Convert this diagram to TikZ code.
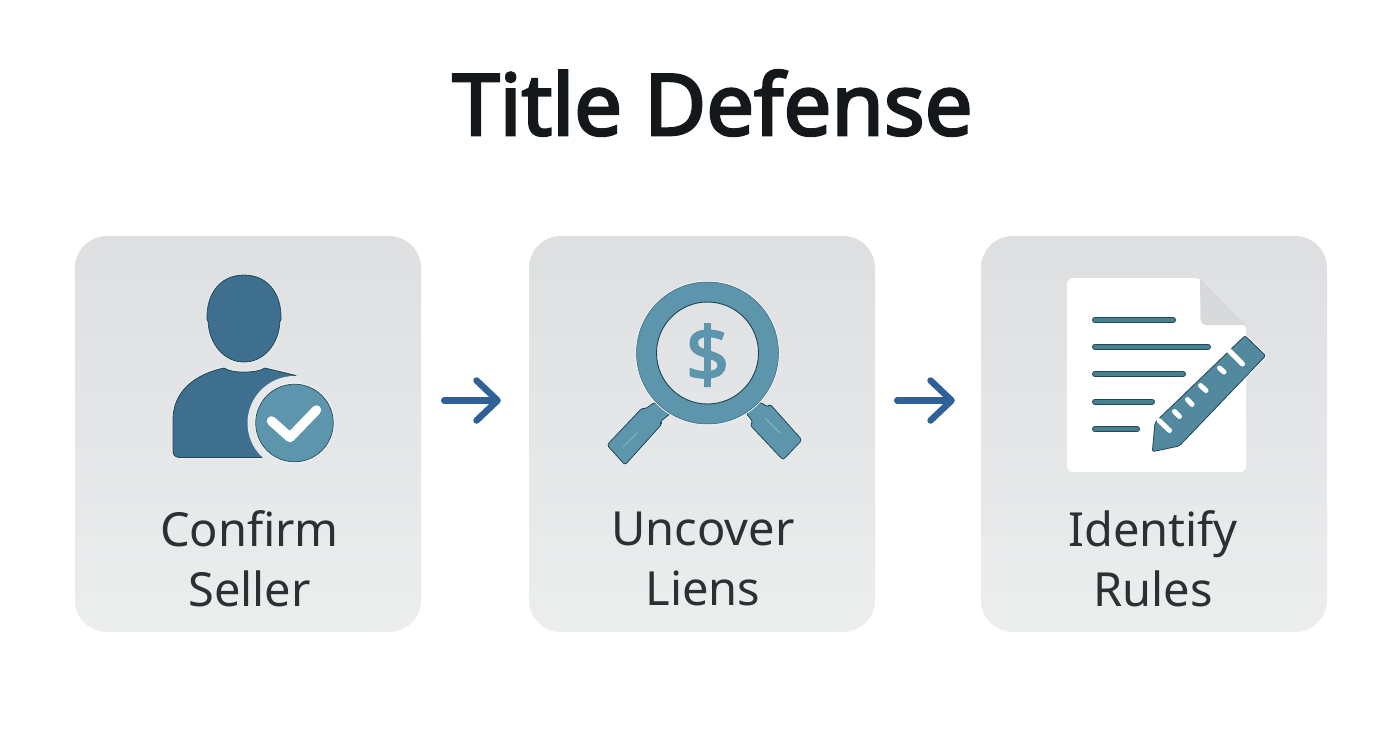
\documentclass[tikz,border=0pt]{standalone}
\usepackage{fontspec}
\setmainfont{Noto Sans}
\newfontfamily\titlefont[FakeBold=3]{Noto Sans}
\newfontfamily\dollarfont[FakeBold=2.5]{Noto Sans}
\usetikzlibrary{arrows.meta,calc,shadings}
\definecolor{inktitle}{HTML}{14181A}
\definecolor{inklabel}{HTML}{2C3034}
\definecolor{cardtop}{HTML}{DEDFE1}
\definecolor{cardbot}{HTML}{ECEDED}
\definecolor{bodyblue}{HTML}{3E6F8F}
\definecolor{teal}{HTML}{5C95AC}
\definecolor{outl}{HTML}{1F4656}
\definecolor{halo}{HTML}{EEF3F5}
\definecolor{gapcol}{HTML}{E6E8EA}
\definecolor{arrowblue}{HTML}{30609A}
\definecolor{fold}{HTML}{D8D9DB}
\definecolor{docline}{HTML}{47808F}
\tikzset{
  cardbox/.style={rectangle,rounded corners=32pt,minimum width=346pt,minimum height=396pt,inner sep=0pt,top color=cardtop,bottom color=cardbot,draw=none},
  cardlabel/.style={align=center,text=inklabel,font=\fontsize{47}{60.5}\selectfont,inner sep=0pt},
  flow/.style={draw=arrowblue,line width=6.5pt,line cap=round,line join=round,-{Straight Barb[length=21pt,width=40pt,round]}},
  iconhalo/.style={draw=halo,line width=2.4pt,line join=round},
  iconline/.style={draw=outl,line width=0.8pt,line join=round},
  docstroke/.style={draw=outl,line width=6pt,line cap=round},
  docfill/.style={draw=docline,line width=4pt,line cap=round},
  whitemark/.style={draw=white,line width=5pt,line cap=round},
}
\begin{document}
\begin{tikzpicture}[x=1pt,y=-1pt]
\useasboundingbox (0,0) rectangle (1392,752);
\fill[white] (0,0) rectangle (1392,752);
\node[text=inktitle,inner sep=0pt,font=\titlefont\fontsize{85}{95}\selectfont] (title) at (712.5,103) {Title Defense};

\node[cardbox] (card1) at (248,434) {};
\node[cardbox] (card2) at (702,434) {};
\node[cardbox] (card3) at (1154,434) {};

\node[cardlabel] (label1) at (249.5,559) {Confirm\\Seller};
\node[cardlabel] (label2) at (703,559) {Uncover\\Liens};
\node[cardlabel] (label3) at (1153,559) {Identify\\Rules};

% connectors
\coordinate (a1s) at ($(card1.east)+(23,-33.5)$);
\coordinate (a1e) at ($(card2.west)+(-28,-33.5)$);
\coordinate (a2s) at ($(card2.east)+(22,-33.5)$);
\coordinate (a2e) at ($(card3.west)+(-26,-33.5)$);
\draw[flow] (a1s) -- (a1e);
\draw[flow] (a2s) -- (a2e);

% person icon
\def\headpath{(207,320) .. controls (206,294) and (220,275) .. (244,275) .. controls (268,275) and (282,294) .. (281,320) -- (280,321) .. controls (279,344) and (264,362) .. (244,362) .. controls (224,362) and (209,344) .. (208,321) -- cycle}
\def\bodypath{(224,368) .. controls (232,373.5) and (256,373.5) .. (265,368) .. controls (275,370.5) and (286,373) .. (296,375.5) -- (300,420) -- (262,457.5) -- (180,457.5) .. controls (175,457.5) and (173,455) .. (173,451) -- (173,418) .. controls (174,390) and (196,374) .. (224,368) -- cycle}
\path[iconhalo] \headpath;
\path[fill=bodyblue,iconline] \headpath;
\path[iconhalo] \bodypath;
\path[fill=bodyblue,iconline] \bodypath;
\begin{scope}
  \clip (240,360) rectangle (300,470);
  \fill[gapcol] (294.5,423) circle (47);
\end{scope}
\draw[halo,line width=1.5pt,fill=teal] (294.5,423) circle (39.5);
\draw[outl,line width=0.7pt] (294.5,423) circle (38.8);
\draw[white,line width=9.5pt,line cap=round,line join=round] (271.5,421) -- (290,437.5) -- (316.5,410);

% magnifier icon
\foreach \h/\n in {
 {(655,402) -- (645,409) -- (642,408) -- (607,445) -- (625,465) -- (662,424) -- (660,422) -- (671,413)}/1,
 {(760,402) -- (768,407) -- (770,404) -- (802,440) -- (783,460) -- (750,425) -- (753,422) -- (746,413)}/2}{
  \path[fill=teal,draw=halo,line width=2.4pt,rounded corners=2.5pt,line join=round] \h -- cycle;
  \path[fill=teal,iconline,rounded corners=2.5pt] \h -- cycle;
}
\draw[teal!70!white,line width=1pt] (623,447) -- (637,433);
\draw[teal!70!white,line width=1pt] (765,418) -- (780,433);
\path[draw=halo,line width=1.5pt] (707.5,353) circle (71.5);
\path[draw=teal,line width=20pt] (707.5,353) circle (61);
\path[draw=outl,line width=0.9pt] (707.5,353) circle (51);
\path[draw=outl!60!teal,line width=0.5pt] (707.5,353) circle (71);
\node[text=teal,inner sep=0pt,font=\dollarfont\fontsize{76}{76}\selectfont] (dollar) at (707.5,355) {\$};

% document icon
\path[fill=white,rounded corners=6pt] (1200,278) -- (1067,278) -- (1067,472) -- (1246,472) -- (1246,325) -- cycle;
\path[fill=fold] (1200,278) -- (1246,325) -- (1207,325) .. controls (1203,325) and (1200.5,323) .. (1200.5,319) -- cycle;
\foreach \y/\x in {320/1173,346.7/1208,374/1183,401.7/1152,429/1137}{
  \draw[docstroke] (1095,\y) -- (\x,\y);
  \draw[docfill] (1095,\y) -- (\x,\y);
}
% pen
\def\penpath{(1152.3,451.7) -- (1155,422.3) -- (1245,335.7) -- (1265.7,355.7) -- (1179.3,446) -- cycle}
\path[draw=white,line width=2.4pt,rounded corners=2pt] \penpath;
\path[fill=teal!85!outl,iconline,rounded corners=2pt] \penpath;
\draw[whitemark] (1159,420.5) -- (1169.5,430.5);
\draw[whitemark] (1229,350.5) -- (1242.5,364);
\draw[whitemark] (1174.5,411.5) -- (1179.5,416.5);
\draw[whitemark] (1187.5,399.5) -- (1192,404.5);
\draw[whitemark] (1200.5,385.5) -- (1206,390.5);
\draw[whitemark] (1219.5,368) -- (1224,372);
\end{tikzpicture}
\end{document}
